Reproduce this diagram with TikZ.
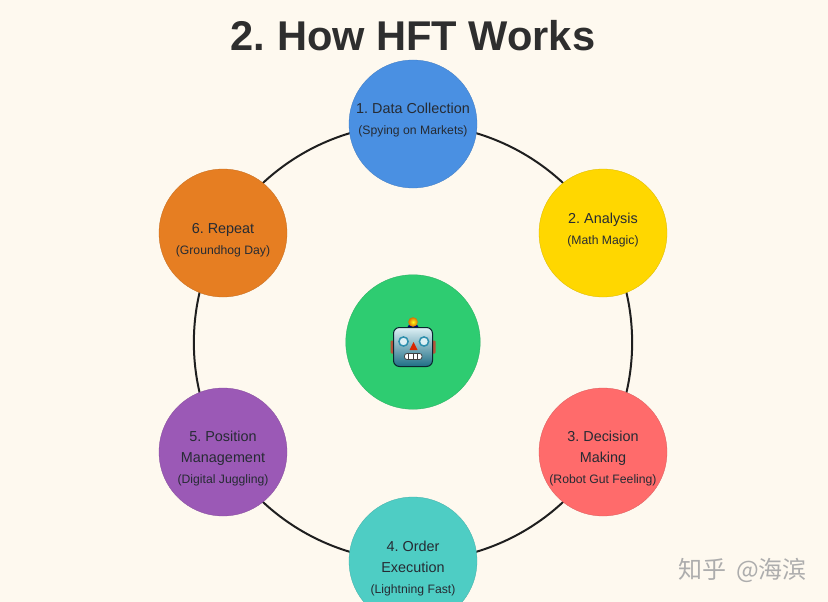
\documentclass[tikz,border=0pt]{standalone}
\usepackage{fontspec}
\setmainfont{Liberation Sans}
\newfontfamily\cjkwm{Noto Sans CJK SC}[BoldFont={* Bold}]
\definecolor{paper}{HTML}{FEF9EF}
\definecolor{ink}{HTML}{262B33}
\definecolor{cBlue}{HTML}{4A90E2}
\definecolor{cYellow}{HTML}{FFD700}
\definecolor{cRed}{HTML}{FF6B6B}
\definecolor{cTeal}{HTML}{4ECDC4}
\definecolor{cPurple}{HTML}{9B59B6}
\definecolor{cOrange}{HTML}{E67E22}
\definecolor{cGreen}{HTML}{2ECC71}
\definecolor{headTop}{HTML}{DDF0F5}
\definecolor{headMid}{HTML}{86BACB}
\definecolor{headBot}{HTML}{1E6E85}
\definecolor{eyeRing}{HTML}{2E8FAD}
\definecolor{earRed}{HTML}{B5533C}
\tikzset{
  stage/.style={circle,fill=#1,draw=#1!85!black,line width=.3pt,minimum size=128pt,inner sep=0pt},
  hub/.style={circle,fill=cGreen,draw=cGreen!85!black,line width=.3pt,minimum size=134.5pt,inner sep=0pt},
  link/.style={line width=2pt,draw=black!88,bend left=30,looseness=.91},
  stagetext/.style={align=center,text=ink,font=\frenchspacing\fontsize{14.4}{21}\selectfont,inner sep=0pt}
}
\newcommand{\subline}[1]{{\fontsize{12.2}{21}\selectfont #1}}
\begin{document}
\frenchspacing
\begin{tikzpicture}[x=1pt,y=-1pt]
\useasboundingbox (0,0) rectangle (828,602);
\fill[paper] (0,0) rectangle (828,602);
\node[font=\fontsize{41.6}{48}\selectfont\bfseries,text=black!82,inner sep=0pt] (title) at (413,35.5) {2. How HFT Works};
% ring positions
\coordinate (c1) at (413,124);
\coordinate (c2) at (603,233);
\coordinate (c3) at (603,452);
\coordinate (c4) at (413,561);
\coordinate (c5) at (223,452);
\coordinate (c6) at (223,233);
% ring, one arc per pair of neighbouring stages
\draw[link] (c1) to (c2);
\draw[link] (c2) to (c3);
\draw[link] (c3) to (c4);
\draw[link] (c4) to (c5);
\draw[link] (c5) to (c6);
\draw[link] (c6) to (c1);
% stages
\node[stage=cBlue] (n1) at (c1) {};
\node[stage=cYellow] (n2) at (c2) {};
\node[stage=cRed] (n3) at (c3) {};
\node[stage=cTeal] (n4) at (c4) {};
\node[stage=cPurple] (n5) at (c5) {};
\node[stage=cOrange] (n6) at (c6) {};
\node[stagetext] (t1) at (413,120) {1. Data Collection\\\subline{(Spying on Markets)}};
\node[stagetext] (t2) at (603,230) {2. Analysis\\\subline{(Math Magic)}};
\node[stagetext] (t3) at (603,459) {3. Decision\\Making\\\subline{(Robot Gut Feeling)}};
\node[stagetext] (t4) at (413,568.5) {4. Order\\Execution\\\subline{(Lightning Fast)}};
\node[stagetext] (t5) at (223,459) {5. Position\\Management\\\subline{(Digital Juggling)}};
\node[stagetext] (t6) at (223,240) {6. Repeat\\\subline{(Groundhog Day)}};
% hub with the robot face
\node[hub] (hub) at (413,342) {};
\fill[rounded corners=1pt,fill=earRed] (390.5,340.5) rectangle (394,353.5);
\fill[rounded corners=1pt,fill=earRed] (432,340.5) rectangle (435.5,353.5);
\fill[fill=blue!45!black] (413,327) ellipse (5.5 and 3.2);
\shade[inner color=yellow!90!white,outer color=orange!85!black] (413,322) circle (4.8);
\draw[headBot!35!black,line width=1pt,rounded corners=6pt,top color=headTop,middle color=headMid,bottom color=headBot] (393.5,327.5) rectangle (432.5,366.5);
\draw[fill=headTop,draw=eyeRing,line width=1.5pt] (403.5,341.5) circle (4.6);
\draw[fill=headTop,draw=eyeRing,line width=1.5pt] (424,341.5) circle (4.6);
\fill[red!65!orange!85!black] (413.5,342) -- (409.5,350) -- (417.5,350) -- cycle;
\draw[fill=white,draw=black!75,line width=.8pt,rounded corners=2.5pt] (404.5,353.5) rectangle (422,359.5);
\foreach \sx in {408.7,413.2,417.7}{\draw[black!75,line width=.8pt] (\sx,353.5) -- (\sx,359.5);}
% watermark
\node[font=\cjkwm\fontsize{24}{26}\selectfont,text=black!32,inner sep=0pt] (mark) at (742.5,570) {知乎\hspace{10pt}@海滨};
\end{tikzpicture}
\end{document}
